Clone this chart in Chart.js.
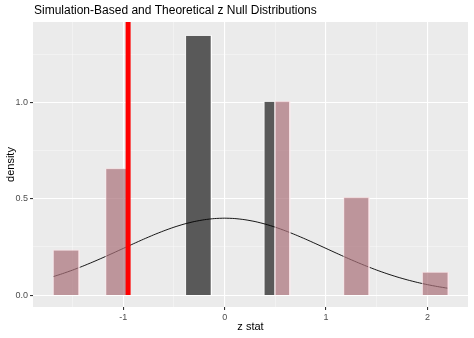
<!DOCTYPE html>
<html>
<head>
<meta charset="utf-8">
<script src="https://cdn.jsdelivr.net/npm/chart.js@4"></script>
<style>
  html, body { margin: 0; padding: 0; background: #fff; }
  #wrap { width: 474px; height: 338px; }
</style>
</head>
<body>
<div id="wrap"><canvas id="nullChart" width="474" height="338"></canvas></div>
<script>
// grey histogram bins of the simulated z statistics
const greyLeft = [-0.385, 0.389];
const greyRight = [-0.131, 0.498];
const greyHeight = [1.347, 1.005];

// shaded (p-value) bins
const shadeLeft = [-1.690, -1.171, 0.498, 1.175, 1.950];
const shadeRight = [-1.436, -0.952, 0.643, 1.424, 2.205];
const shadeHeight = [0.233, 0.656, 1.005, 0.506, 0.118];

// theoretical standard normal density
const curveX = [-1.69, -1.6, -1.5, -1.4, -1.3, -1.2, -1.1, -1.0, -0.9, -0.8, -0.7, -0.6, -0.5, -0.4,
  -0.3, -0.2, -0.1, 0.0, 0.1, 0.2, 0.3, 0.4, 0.5, 0.6, 0.7, 0.8, 0.9, 1.0, 1.1, 1.2, 1.3, 1.4,
  1.5, 1.6, 1.7, 1.8, 1.9, 2.0, 2.1, 2.2];
const curveY = [0.0957, 0.1109, 0.1295, 0.1497, 0.1714, 0.1942, 0.2179, 0.2420, 0.2661, 0.2897,
  0.3123, 0.3332, 0.3521, 0.3683, 0.3814, 0.3910, 0.3970, 0.3989, 0.3970, 0.3910, 0.3814, 0.3683,
  0.3521, 0.3332, 0.3123, 0.2897, 0.2661, 0.2420, 0.2179, 0.1942, 0.1714, 0.1497, 0.1295, 0.1109,
  0.0940, 0.0790, 0.0656, 0.0540, 0.0440, 0.0355];

// observed statistic
const obsStat = -0.952;

const xMajor = [-1, 0, 1, 2];
const xMinor = [-1.5, -0.5, 0.5, 1.5];
const yMajor = [0, 0.5, 1.0];
const yMinor = [0.25, 0.75, 1.25];
const xRange = [-1.89, 2.40];
const yRange = [-0.062, 1.417];

const FONT = '"Liberation Sans", Arial, sans-serif';

function rect(l, r, h) {
    return [{ x: l, y: 0 }, { x: l, y: h }, { x: r, y: h }, { x: r, y: 0 }];
}

function barSet(l, r, h, fill, edge, order) {
    return {
        type: 'line',
        data: rect(l, r, h),
        fill: 'origin',
        backgroundColor: fill,
        borderColor: edge,
        borderWidth: 0.8,
        pointRadius: 0,
        tension: 0,
        order: order
    };
}

const datasets = [];
greyLeft.forEach((l, i) => {
    datasets.push(barSet(l, greyRight[i], greyHeight[i], '#595959', '#ffffff', 5));
});
datasets.push({
    type: 'line',
    data: curveX.map((x, i) => ({ x: x, y: curveY[i] })),
    borderColor: '#000000',
    borderWidth: 0.9,
    pointRadius: 0,
    fill: false,
    tension: 0.2,
    order: 4
});
shadeLeft.forEach((l, i) => {
    datasets.push(barSet(l, shadeRight[i], shadeHeight[i], 'rgba(170,112,121,0.7)', 'rgba(255,235,238,0.8)', 3));
});
datasets.push({
    type: 'line',
    data: [{ x: obsStat, y: 0 }, { x: obsStat, y: yRange[1] }],
    borderColor: '#ff0000',
    borderWidth: 5,
    borderCapStyle: 'butt',
    pointRadius: 0,
    fill: false,
    order: 1
});

function setTicks(major, minor) {
    return scale => {
        scale.ticks = major.concat(minor).sort((a, b) => a - b).map(v => ({ value: v }));
    };
}

function gridStyle(major) {
    return {
        color: c => major.includes(c.tick.value) ? '#ffffff' : 'rgba(255,255,255,0.65)',
        lineWidth: c => major.includes(c.tick.value) ? 1.1 : 0.55,
        tickColor: c => major.includes(c.tick.value) ? '#333333' : 'rgba(0,0,0,0)',
        tickLength: 3,
        drawOnChartArea: true
    };
}

const panelBackdrop = {
    id: 'panelBackdrop',
    beforeDraw(chart) {
        const { ctx, chartArea: a } = chart;
        ctx.save();
        ctx.fillStyle = '#ebebeb';
        ctx.fillRect(a.left, a.top, a.right - a.left, a.bottom - a.top);
        ctx.restore();
    }
};

const plotTitle = {
    id: 'plotTitle',
    afterDraw(chart) {
        const ctx = chart.ctx;
        ctx.save();
        ctx.fillStyle = '#000000';
        ctx.font = '12px ' + FONT;
        ctx.textBaseline = 'middle';
        ctx.fillText('Simulation-Based and Theoretical z Null Distributions', chart.chartArea.left + 1, 11);
        ctx.restore();
    }
};

new Chart(document.getElementById('nullChart'), {
    type: 'line',
    data: { datasets: datasets },
    options: {
        responsive: false,
        animation: false,
        layout: { padding: { top: 22, right: 6, left: 0, bottom: 0 } },
        plugins: { legend: { display: false }, tooltip: { enabled: false } },
        scales: {
            x: {
                type: 'linear',
                min: xRange[0], max: xRange[1],
                afterBuildTicks: setTicks(xMajor, xMinor),
                afterFit: s => { s.height = 31; },
                grid: gridStyle(xMajor),
                border: { display: false },
                ticks: {
                    autoSkip: false, maxRotation: 0, padding: 2,
                    color: '#4d4d4d', font: { family: FONT, size: 9 },
                    callback: v => xMajor.includes(v) ? String(v) : ''
                },
                title: { display: true, text: 'z stat', color: '#000', font: { family: FONT, size: 11 }, padding: { top: 0, bottom: 4 } }
            },
            y: {
                type: 'linear',
                min: yRange[0], max: yRange[1],
                afterBuildTicks: setTicks(yMajor, yMinor),
                afterFit: s => { s.width = 33; },
                grid: gridStyle(yMajor),
                border: { display: false },
                ticks: {
                    autoSkip: false, padding: 2,
                    color: '#4d4d4d', font: { family: FONT, size: 9 },
                    callback: v => yMajor.includes(v) ? v.toFixed(1) : ''
                },
                title: { display: true, text: 'density', color: '#000', font: { family: FONT, size: 11 }, padding: { top: 4, bottom: 0 } }
            }
        }
    },
    plugins: [panelBackdrop, plotTitle]
});
</script>
</body>
</html>
